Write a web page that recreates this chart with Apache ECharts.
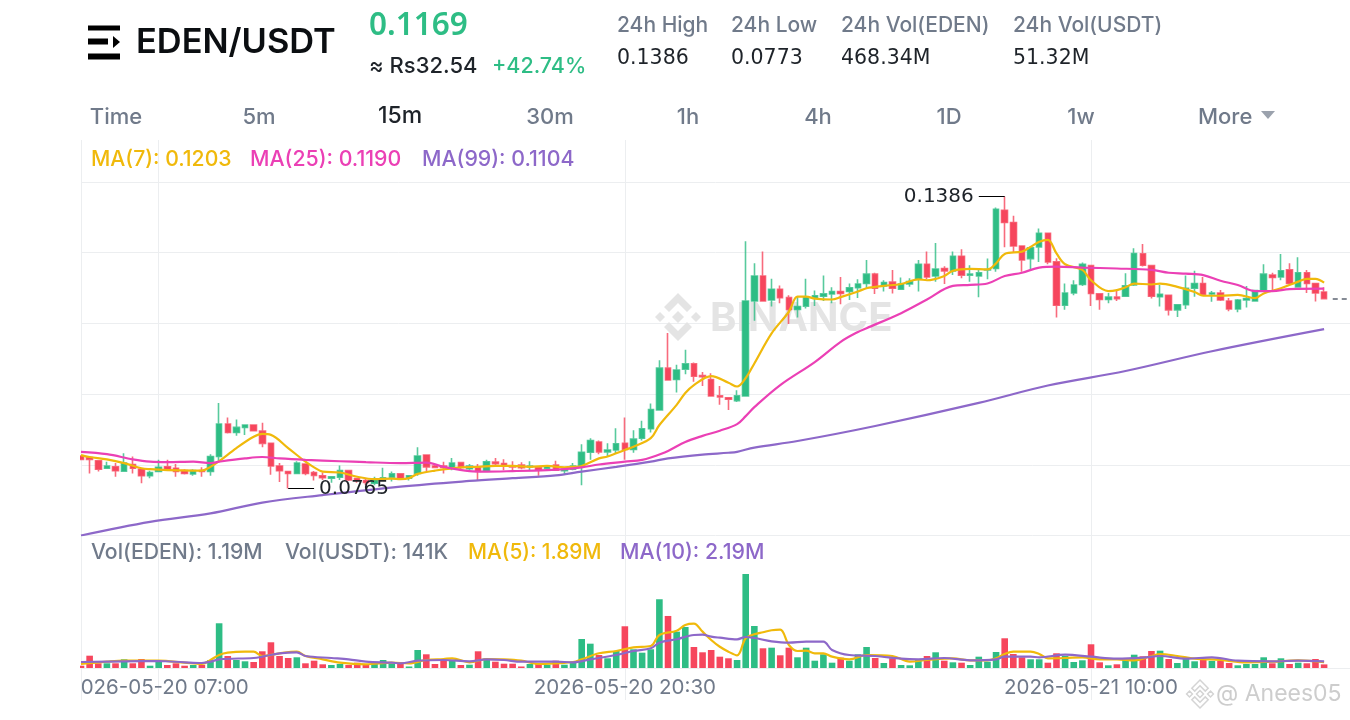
<!DOCTYPE html>
<html><head><meta charset="utf-8">
<script src="https://cdn.jsdelivr.net/npm/echarts@6/dist/echarts.min.js"></script>
<style>html,body{margin:0;padding:0;background:#fff}#c{width:1350px;height:720px}</style>
</head><body><div id="c"></div>
<script>
const opens=[.0834,.0831,.0824,.0808,.0811,.0802,.0816,.0806,.0792,.0801,.0811,.0808,.0803,.0796,.0803,.0801,.0833,.0902,.0884,.0895,.0900,.0887,.0861,.0813,.0801,.0797,.0817,.0799,.0792,.0787,.0789,.0803,.0786,.0782,.0776,.0785,.0789,.0796,.0787,.0797,.0836,.0813,.0813,.0810,.0820,.0807,.0810,.0803,.0821,.0818,.0813,.0815,.0811,.0809,.0808,.0815,.0803,.0806,.0813,.0842,.0864,.0843,.0847,.0861,.0848,.0872,.0892,.0932,.1021,.0997,.1019,.1030,.1005,.0997,.0962,.0958,.0952,.0962,.1164,.1217,.1166,.1189,.1171,.1146,.1153,.1171,.1174,.1179,.1184,.1184,.1192,.1201,.1221,.1196,.1204,.1189,.1200,.1210,.1242,.1217,.1233,.1228,.1259,.1219,.1217,.1230,.1233,.1357,.1331,.1281,.1254,.1279,.1308,.1247,.1155,.1181,.1199,.1239,.1179,.1167,.1172,.1174,.1198,.1264,.1239,.1173,.1176,.1145,.1156,.1191,.1201,.1179,.1181,.1164,.1147,.1166,.1164,.1187,.1219,.1215,.1230,.1194,.1224,.1201,.1183];
const closes=[.0827,.0827,.0806,.0813,.0803,.0819,.0808,.0792,.0799,.0810,.0804,.0801,.0797,.0803,.0801,.0833,.0902,.0884,.0895,.0900,.0888,.0861,.0813,.0803,.0797,.0819,.0797,.0793,.0788,.0790,.0803,.0783,.0782,.0778,.0785,.0788,.0796,.0787,.0792,.0834,.0811,.0810,.0810,.0819,.0810,.0813,.0801,.0822,.0818,.0815,.0811,.0809,.0813,.0804,.0811,.0804,.0806,.0813,.0842,.0867,.0843,.0847,.0860,.0848,.0870,.0892,.0933,.1021,.0996,.1017,.1030,.1004,.1003,.0962,.0960,.0955,.0962,.1164,.1217,.1164,.1189,.1171,.1146,.1152,.1172,.1175,.1179,.1184,.1180,.1192,.1200,.1221,.1191,.1203,.1191,.1200,.1205,.1242,.1215,.1232,.1228,.1259,.1219,.1221,.1224,.1231,.1359,.1331,.1281,.1251,.1277,.1308,.1247,.1155,.1181,.1198,.1242,.1180,.1167,.1172,.1169,.1196,.1265,.1240,.1174,.1178,.1145,.1156,.1191,.1201,.1178,.1181,.1166,.1147,.1166,.1169,.1186,.1221,.1214,.1228,.1201,.1224,.1201,.1181,.1169];
const lows=[.0827,.0797,.0801,.0808,.0790,.0801,.0797,.0776,.0787,.0800,.0802,.0790,.0795,.0792,.0790,.0792,.0824,.0882,.0877,.0879,.0886,.0853,.0794,.0779,.0765,.0796,.0793,.0782,.0783,.0777,.0783,.0781,.0777,.0772,.0772,.0783,.0780,.0783,.0782,.0792,.0801,.0809,.0797,.0804,.0806,.0804,.0783,.0801,.0815,.0804,.0801,.0806,.0804,.0792,.0806,.0802,.0796,.0804,.0772,.0826,.0838,.0834,.0840,.0826,.0841,.0867,.0884,.0932,.0994,.0969,.1008,.0992,.0983,.0960,.0943,.0932,.0949,.0962,.1122,.1162,.1152,.1159,.1115,.1129,.1148,.1153,.1164,.1159,.1157,.1166,.1170,.1191,.1179,.1184,.1180,.1187,.1194,.1184,.1210,.1205,.1200,.1219,.1212,.1205,.1172,.1210,.1226,.1278,.1268,.1226,.1230,.1247,.1242,.1129,.1145,.1176,.1196,.1153,.1145,.1159,.1164,.1173,.1196,.1237,.1169,.1152,.1133,.1130,.1147,.1173,.1176,.1162,.1164,.1142,.1140,.1150,.1163,.1185,.1187,.1208,.1200,.1193,.1181,.1163,.1167];
const highs=[.0834,.0832,.0824,.0822,.0819,.0840,.0833,.0806,.0803,.0826,.0826,.0817,.0806,.0806,.0810,.0838,.0947,.0916,.0912,.0900,.0900,.0905,.0861,.0819,.0803,.0823,.0817,.0802,.0799,.0790,.0814,.0803,.0787,.0786,.0790,.0809,.0801,.0796,.0792,.0853,.0838,.0815,.0822,.0830,.0820,.0817,.0817,.0826,.0830,.0827,.0823,.0821,.0823,.0809,.0815,.0824,.0808,.0819,.0859,.0872,.0867,.0861,.0893,.0916,.0889,.0909,.0946,.1038,.1096,.1028,.1060,.1033,.1013,.1010,.0983,.0958,.0974,.1291,.1244,.1269,.1211,.1197,.1176,.1173,.1211,.1186,.1218,.1193,.1215,.1201,.1210,.1251,.1224,.1208,.1230,.1214,.1212,.1251,.1269,.1287,.1238,.1269,.1274,.1240,.1233,.1254,.1363,.1386,.1345,.1281,.1281,.1318,.1308,.1255,.1201,.1208,.1246,.1239,.1179,.1181,.1185,.1223,.1276,.1285,.1239,.1198,.1176,.1156,.1218,.1228,.1215,.1185,.1187,.1170,.1168,.1196,.1187,.1242,.1224,.1264,.1244,.1257,.1230,.1201,.1193];
const volumes=[.76,4.06,1.55,1.55,1.55,2.87,1.55,2.97,.76,2.08,.99,1.55,.76,.99,.99,2.64,14.75,3.96,2.64,2.21,1.98,5.51,8.48,3.96,3.3,3.53,1.55,2.41,1.22,.99,1.32,.99,1.75,1.32,1.42,2.64,1.42,1.55,.5,5.94,4.52,1.32,2.31,2.41,.99,1.09,5.51,3.2,2.08,1.42,1.42,.5,1.32,1.32,1.09,2.41,1.09,1.75,9.57,8.02,4.29,3.2,5.61,13.76,6.17,5.05,6.17,22.67,17.16,11.98,13.53,6.93,5.18,5.94,3.73,3.2,2.64,31,13.86,6.5,6.7,4.19,6.7,3.53,6.7,2.41,4.52,1.75,3.4,2.41,4.52,6.93,3.3,1.65,3.2,.99,.89,2.64,3.96,5.18,2.41,1.88,1.75,.99,3.73,2.08,5.28,9.8,4.62,3.53,2.87,2.87,1.75,4.85,3.96,1.98,2.54,7.82,1.88,.89,1.22,2.64,4.39,3.86,5.61,5.71,2.97,1.65,3.2,2.21,2.87,2.31,2.41,1.65,.89,1.32,1.32,3.53,1.55,3.2,1.32,1.75,1.55,2.97,1.19];
const ma7=[[0,.0836],[1,.0832],[3,.0827],[5,.0819],[7,.0808],[8,.0806],[10,.0804],[13,.0803],[14,.0803],[15,.0811],[16,.0823],[18,.0851],[20,.0875],[21,.0881],[22,.0879],[24,.0851],[26,.0822],[27,.0810],[28,.0801],[30,.0799],[32,.0790],[34,.0785],[36,.0786],[37,.0785],[38,.0787],[39,.0796],[41,.0803],[44,.0810],[46,.0811],[48,.0813],[50,.0813],[52,.0811],[54,.0813],[56,.0810],[57,.0811],[58,.0813],[60,.0829],[61,.0833],[63,.0847],[64,.0854],[66,.0872],[67,.0900],[69,.0943],[70,.0968],[71,.0985],[73,.1004],[75,.0990],[76,.0982],[77,.1000],[78,.1031],[80,.1095],[82,.1141],[83,.1173],[84,.1173],[85,.1169],[87,.1167],[88,.1172],[90,.1184],[91,.1191],[93,.1196],[95,.1200],[97,.1210],[98,.1208],[100,.1217],[101,.1228],[103,.1232],[105,.1231],[106,.1244],[107,.1264],[109,.1269],[110,.1279],[111,.1290],[112,.1294],[113,.1265],[114,.1242],[116,.1230],[117,.1208],[119,.1185],[120,.1187],[121,.1193],[122,.1201],[124,.1199],[125,.1201],[127,.1194],[129,.1183],[130,.1175],[132,.1175],[134,.1177],[136,.1170],[137,.1180],[139,.1191],[141,.1205],[142,.1211],[143,.1211],[144,.1203]];
const ma25=[[0,.0843],[3,.0838],[6,.0827],[8,.0822],[10,.0821],[13,.0822],[15,.0819],[16,.0822],[19,.0829],[21,.0832],[23,.0829],[26,.0826],[30,.0823],[33,.0821],[37,.0819],[40,.0820],[42,.0811],[45,.0802],[47,.0801],[50,.0802],[54,.0804],[56,.0806],[58,.0810],[60,.0816],[63,.0822],[65,.0826],[66,.0831],[68,.0845],[70,.0864],[72,.0877],[74,.0888],[76,.0902],[77,.0919],[78,.0938],[81,.0985],[85,.1034],[88,.1077],[90,.1098],[91,.1106],[95,.1138],[98,.1167],[101,.1196],[103,.1198],[105,.1201],[107,.1217],[109,.1224],[111,.1235],[113,.1237],[116,.1235],[120,.1233],[124,.1230],[126,.1224],[128,.1222],[130,.1219],[132,.1207],[134,.1198],[136,.1185],[138,.1185],[140,.1189],[144,.1190]];
const ma99=[[0,.0665],[8,.0694],[15,.0712],[21,.0735],[28,.0751],[37,.0769],[45,.0781],[50,.0787],[55,.0793],[58,.0801],[62,.0811],[66,.0822],[68,.0829],[72,.0837],[75,.0841],[76,.0843],[78,.0852],[83,.0866],[92,.0898],[104,.0947],[112,.0984],[121,.1015],[131,.1057],[144,.1104]];
const volMa5=[[0,1.32],[3,2.08],[5,2.41],[9,2.41],[12,1.75],[14,1.32],[15,2.64],[16,4.29],[17,5.05],[19,5.38],[20,5.38],[21,3.96],[23,4.85],[25,5.38],[26,3.96],[28,2.87],[30,1.75],[33,1.22],[36,1.75],[38,1.55],[40,2.64],[42,2.97],[43,3.2],[45,1.88],[47,2.97],[49,2.87],[51,2.41],[53,1.32],[55,1.55],[57,1.98],[58,2.87],[60,4.85],[62,5.61],[64,6.83],[66,7.26],[67,10.89],[69,12.31],[70,14.19],[71,14.62],[72,11.98],[73,9.24],[74,7.0],[75,5.38],[76,4.19],[77,9.8],[78,11.12],[79,11.78],[80,12.44],[81,12.64],[82,7.59],[83,5.61],[84,5.71],[85,4.85],[86,4.85],[87,3.73],[89,2.87],[91,4.29],[94,3.96],[96,2.08],[98,2.64],[101,3.2],[103,2.54],[105,2.54],[106,3.2],[107,4.62],[108,5.38],[110,5.38],[111,4.62],[112,3.2],[114,3.3],[116,3.53],[118,2.87],[120,2.87],[122,2.54],[124,3.96],[125,4.62],[127,3.96],[129,3.07],[132,2.64],[135,1.88],[138,2.08],[141,2.54],[144,1.89]];
const volMa10=[[0,1.98],[5,2.21],[9,2.31],[12,1.88],[14,1.65],[15,2.08],[16,2.87],[20,3.3],[21,3.73],[23,4.85],[25,5.18],[26,3.96],[29,3.3],[31,2.87],[33,2.08],[36,1.75],[37,1.55],[39,2.41],[42,2.64],[45,2.21],[47,2.87],[49,2.64],[51,2.08],[55,2.08],[57,1.88],[59,2.87],[62,4.29],[64,5.61],[66,6.5],[67,8.35],[69,9.47],[71,10.89],[72,10.99],[73,10.33],[74,10],[76,9.47],[77,10.23],[78,9.9],[80,8.81],[82,8.35],[84,8.68],[86,8.68],[87,5.94],[89,4.29],[92,3.96],[95,3.07],[97,2.87],[100,3.3],[103,2.54],[106,2.87],[107,3.73],[110,3.73],[111,3.53],[114,4.39],[117,3.73],[120,3.07],[123,3.4],[125,3.96],[128,3.07],[131,3.53],[134,2.41],[138,2.21],[141,2.41],[144,2.19]];
const priceGridLines=[.0665,.08154,.09658,.11162,.12666,.1417];
const labelledCandles=[9,63,117];
const candleCount=148;

const GREEN='#2ebd85',RED='#f6465d',YEL='#f0b90b',PINK='#eb40b5',PUR='#8d68c9',GRAY='#707a8a',DARK='#1e2329',GRID='#eceef0';
const FONT='Inter, "Noto Sans", sans-serif';
const NUM='"DejaVu Sans", sans-serif';

// 15-minute candle times, from 2026-05-20 04:45
const categories=[];
for(let i=0;i<candleCount;i++){
  const t=new Date(Date.UTC(2026,4,20,4,45)+i*900000);
  const p=n=>String(n).padStart(2,'0');
  categories.push(`${t.getUTCFullYear()}-${p(t.getUTCMonth()+1)}-${p(t.getUTCDate())} ${p(t.getUTCHours())}:${p(t.getUTCMinutes())}`);
}
const candleData=opens.map((o,i)=>[o,closes[i],lows[i],highs[i]]);
const volData=volumes.map((v,i)=>({value:v,itemStyle:{color:closes[i]>=opens[i]?GREEN:RED}}));

const T=(x,y,text,size,color,weight,align,font)=>({type:'text',x,y:y+2.5,silent:true,z:5,style:{text,fontSize:size,fill:color,fontWeight:weight||500,fontFamily:font||FONT,align:align||'left',verticalAlign:'middle'}});
const logoParts=(cx,cy,r,style)=>{
  const k=r/24;
  const P=pts=>({type:'polygon',silent:true,z:1,shape:{points:pts.map(([a,b])=>[cx+a*k,cy+b*k])},style});
  return [
    P([[0,-24],[14,-10],[9,-5],[0,-14],[-9,-5],[-14,-10]]),
    P([[0,24],[14,10],[9,5],[0,14],[-9,5],[-14,10]]),
    P([[0,-6],[6,0],[0,6],[-6,0]]),
    P([[-18,-5],[-13,0],[-18,5],[-23,0]]),
    P([[18,-5],[23,0],[18,5],[13,0]])
  ];
};
const graphics=[
  {type:'rect',z:6,silent:true,shape:{x:0,y:140,width:80,height:530},style:{fill:'#fff'}},
  {type:'rect',z:5,silent:true,shape:{x:88,y:25.5,width:32,height:5},style:{fill:'#000'}},
  {type:'rect',z:5,silent:true,shape:{x:88,y:38.5,width:20,height:6},style:{fill:'#000'}},
  {type:'rect',z:5,silent:true,shape:{x:88,y:53.5,width:32,height:6},style:{fill:'#000'}},
  {type:'polygon',z:5,silent:true,shape:{points:[[113,36],[120,42],[113,48]]},style:{fill:'#000'}},
  T(136,40,'EDEN/USDT',34.4,'#0b0e11',600),
  T(369,23.5,'0.1169',31.5,GREEN,600,'left','"Noto Sans", sans-serif'),
  T(369,64,'≈ Rs32.54',22,DARK,500),
  T(492,64,'+42.74%',21.5,GREEN,500),
  T(617,23.5,'24h High',21,GRAY),T(617,56,'0.1386',20.5,DARK,400,'left',NUM),
  T(731,23.5,'24h Low',21,GRAY),T(731,56,'0.0773',20.5,DARK,400,'left',NUM),
  T(841,23.5,'24h Vol(EDEN)',21,GRAY),T(841,56,'468.34M',20.5,DARK,400,'left',NUM),
  T(1013,23.5,'24h Vol(USDT)',21,GRAY),T(1013,56,'51.32M',20.5,DARK,400,'left',NUM),
  T(116,115,'Time',22,GRAY,500,'center'),T(259,115,'5m',22,GRAY,500,'center'),T(400,114,'15m',23,DARK,500,'center'),
  T(550,115,'30m',22,GRAY,500,'center'),T(688,115,'1h',22,GRAY,500,'center'),T(818,115,'4h',22,GRAY,500,'center'),
  T(949,115,'1D',22,GRAY,500,'center'),T(1081,115,'1w',22,GRAY,500,'center'),T(1198,115,'More',22,GRAY,500),
  {type:'polygon',z:5,silent:true,shape:{points:[[1261,111],[1275,111],[1268,119]]},style:{fill:'#9ba2ad'}},
  T(91,157,'MA(7): 0.1203',21.2,YEL),T(250,157,'MA(25): 0.1190',21.3,PINK),T(422,157,'MA(99): 0.1104',21.3,PUR),
  T(91,550,'Vol(EDEN): 1.19M',21.2,GRAY),T(285,550,'Vol(USDT): 141K',21.2,GRAY),T(468,550,'MA(5): 1.89M',20.8,YEL),T(620,550,'MA(10): 2.19M',21.3,PUR),
  ...logoParts(678,317,24,{fill:'#e4e4e4'}),
  {type:'text',x:710,y:318.5,silent:true,z:1,style:{text:'BINANCE',fontSize:40,fontWeight:700,fill:'#e4e4e4',fontFamily:FONT,verticalAlign:'middle'}},
  ...logoParts(1200,694,14,{fill:'#fff',stroke:'#d4d4d4',lineWidth:1.5}),
  T(1216,691.5,'@ Anees05',23,'#cdcdcd',400)
];

const hiddenX=(gi)=>({type:'category',gridIndex:gi,data:categories,boundaryGap:false,axisLine:{show:false},axisTick:{show:false},axisLabel:{show:false},splitLine:{show:false}});
const hiddenY=(gi,extra)=>Object.assign({type:'value',gridIndex:gi,scale:false,axisLine:{show:false},axisTick:{show:false},axisLabel:{show:false},splitLine:{show:false}},extra);
const maLine=(name,data,color,xi,yi,w)=>({name,type:'line',data,xAxisIndex:xi,yAxisIndex:yi,showSymbol:false,symbol:'none',smooth:.35,connectNulls:true,clip:true,lineStyle:{color,width:w||2.2},z:4,silent:true});
const extLabel=(text,dist)=>({show:true,position:'end',formatter:text,color:DARK,fontSize:20,fontFamily:NUM,distance:dist,padding:[4,0,0,0]});

const chart=echarts.init(document.getElementById('c'),null,{renderer:'canvas'});
chart.setOption({
  animation:false,backgroundColor:'#fff',
  graphic:graphics,
  grid:[
    {left:81,right:0,top:182,height:353.5},
    {left:81,right:0,top:574,height:94},
    {left:81,right:0,top:140,height:560}
  ],
  xAxis:[
    hiddenX(0),
    Object.assign(hiddenX(1),{axisLine:{show:true,lineStyle:{color:GRID}},axisLabel:{show:true,color:GRAY,fontSize:20.5,fontFamily:FONT,margin:9,hideOverlap:false,
      interval:(i)=>labelledCandles.includes(i),
      formatter:(v,i)=>i===labelledCandles[0]?`{clipped|${v.slice(1)}}`:v,
      rich:{clipped:{color:GRAY,fontSize:20.5,fontFamily:FONT,padding:[0,0,0,12]}}}}),
    Object.assign(hiddenX(2),{splitLine:{show:true,lineStyle:{color:GRID,width:1},interval:(i)=>i===0||labelledCandles.includes(i)}})
  ],
  yAxis:[
    hiddenY(0,{min:.0665,max:.1417,axisTick:{show:false,customValues:priceGridLines},splitLine:{show:true,lineStyle:{color:GRID,width:1}}}),
    hiddenY(1,{min:0,max:31}),
    hiddenY(2,{min:0,max:1})
  ],
  series:[
    {name:'EDEN/USDT',type:'candlestick',data:candleData,xAxisIndex:0,yAxisIndex:0,barWidth:6,clip:true,z:3,silent:true,
     itemStyle:{color:GREEN,color0:RED,borderColor:'rgba(46,189,133,0.8)',borderColor0:'rgba(246,70,93,0.8)',borderColorDoji:GREEN,borderWidth:1.6},
     markLine:{silent:true,symbol:'none',animation:false,precision:4,
       data:[
         [{coord:[107,.1386],lineStyle:{color:'#000',width:1,type:'solid'},label:extLabel('0.1386',5)},{coord:[104,.1386]}],
         [{coord:[24,.0765],lineStyle:{color:'#000',width:1,type:'solid'},label:extLabel('0.0765',5)},{coord:[27,.0765]}],
         [{coord:[145,.1169],lineStyle:{color:'#5e6673',width:1.5,type:[5,4]},label:{show:false}},{coord:[147,.1169]}]
       ]}},
    maLine('MA(7)',ma7,YEL,0,0),
    maLine('MA(25)',ma25,PINK,0,0),
    maLine('MA(99)',ma99,PUR,0,0),
    {name:'Volume',type:'bar',data:volData,xAxisIndex:1,yAxisIndex:1,barWidth:6.6,z:3,silent:true},
    maLine('Vol MA(5)',volMa5,YEL,1,1),
    maLine('Vol MA(10)',volMa10,PUR,1,1)
  ]
});
</script></body></html>
